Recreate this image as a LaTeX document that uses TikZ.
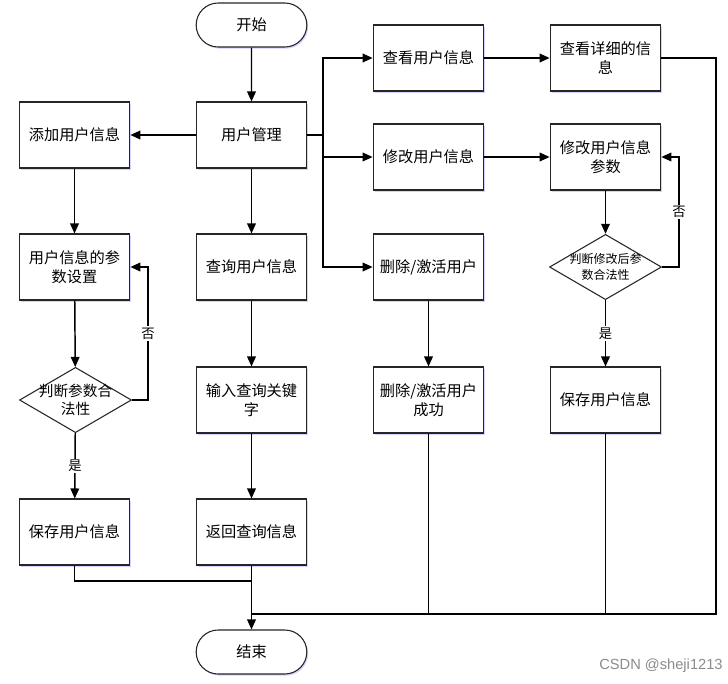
\documentclass[tikz,border=0pt]{standalone}
\usepackage{fontspec}
\setmainfont{Noto Sans CJK SC}
\newfontfamily\wmfont{Liberation Sans}
\usetikzlibrary{arrows.meta,shapes.geometric,shapes.misc,shadows}

\begin{document}
\begin{tikzpicture}[x=0.75pt,y=-0.75pt,
		box/.style={draw=black!85, line width=0.8pt, fill=white, minimum width=83pt, minimum height=49.5pt, inner sep=0pt, align=center, font=\fontsize{11.4}{14.5}\selectfont, drop shadow={shadow xshift=1pt, shadow yshift=-1.2pt, fill=blue!25!white, opacity=0.7}},
		term/.style={box, rounded rectangle, minimum height=33pt},
		dia/.style={draw=black!85, line width=0.8pt, fill=white, diamond, minimum width=84pt, minimum height=49pt, inner sep=0pt},
		arr/.style={line width=1.1pt, -{Triangle[length=7.5pt,width=6.5pt]}},
		lin/.style={line width=1.1pt},
		lab/.style={fill=white, inner sep=1pt, font=\fontsize{10}{12}\selectfont}]
		%%%%% START %%%%%
		
		\fill[white] (0,0) rectangle (728,683);
		\useasboundingbox (0,0) rectangle (728,683);
		
		\node[term] (start) at (251.5, 25) {开始};
		\node[box] (mgr) at (251.5, 135) {用户管理};
		\node[box] (add) at (74.5, 135) {添加用户信息};
		\node[box] (set) at (74.5, 267) {用户信息的参\\数设置};
		\node[dia, label={[align=center, font=\fontsize{11}{14}\selectfont]center:{判断参数合\\法性}}] (chk1) at (75.5, 400) {};
		\node[box] (save1) at (74.5, 532) {保存用户信息};
		
		\node[box] (query) at (251.5, 267) {查询用户信息};
		\node[box] (input) at (251.5, 400) {输入查询关键\\字};
		\node[box] (ret) at (251.5, 532) {返回查询信息};
		\node[term] (stop) at (251.5, 652) {结束};
		
		\node[box] (view) at (428.5, 58) {查看用户信息};
		\node[box] (modi) at (428.5, 157) {修改用户信息};
		\node[box] (del) at (428.5, 267) {删除/激活用户};
		\node[box] (delok) at (428.5, 400) {删除/激活用户\\成功};
		
		\node[box] (detail) at (605.5, 58) {查看详细的信\\息};
		\node[box] (param) at (605.5, 157) {修改用户信息\\参数};
		\node[dia, label={[align=center, font=\fontsize{9}{12}\selectfont]center:{判断修改后参\\数合法性}}] (chk2) at (605.5, 267) {};
		\node[box] (save2) at (605.5, 400) {保存用户信息};
		
		\node[font=\wmfont\fontsize{11}{13}\selectfont, text=black!45] (wm) at (661, 666) {CSDN @sheji1213};
		
		\draw[arr] (start) -- (mgr);
		\draw[arr] (mgr) -- (add);
		\draw[arr] (mgr) -- (query);
		
		\coordinate (trunk) at (323, 135);
		\draw[lin] (mgr) -- (trunk);
		\draw[arr] (trunk) |- (view);
		\draw[arr] (trunk) |- (modi);
		\draw[arr] (trunk) |- (del);
		
		\draw[arr] (view) -- (detail);
		\draw[arr] (modi) -- (param);
		\draw[arr] (param) -- (chk2);
		\draw[arr] (chk2.east) -- ++(17,0) |- node[pos=0.25, lab] {否} (param.east);
		\draw[arr] (chk2) -- node[lab] {是} (save2);
		
		\draw[arr] (add) -- (set);
		\draw[arr] (set) -- (chk1);
		\draw[arr] (chk1.east) -- ++(16,0) |- node[pos=0.25, lab] {否} (set.east);
		\draw[arr] (chk1) -- node[lab] {是} (save1);
		
		\draw[arr] (query) -- (input);
		\draw[arr] (input) -- (ret);
		\draw[arr] (del) -- (delok);
		
		\coordinate (jl) at (251.5, 581);
		\coordinate (jr) at (251.5, 614);
		\coordinate (rc) at (716, 614);
		\draw[lin] (save1) |- (jl);
		\draw[lin] (delok) |- (jr);
		\draw[lin] (save2) |- (jr);
		\draw[lin] (detail) -| (rc) -- (jr);
		\draw[arr] (ret) -- (stop);
		
		%%%%% END %%%%%
\end{tikzpicture}
\end{document}
